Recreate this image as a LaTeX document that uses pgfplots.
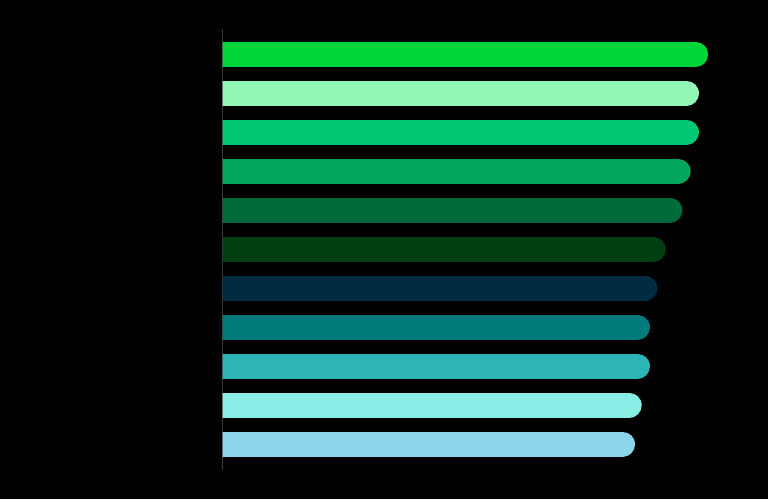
\documentclass[border=0pt]{standalone}
\usepackage{pgfplots}
\pgfplotsset{compat=1.18}
\definecolor{c1}{HTML}{00D639}
\definecolor{c2}{HTML}{90F7B6}
\definecolor{c3}{HTML}{00C875}
\definecolor{c4}{HTML}{00A65A}
\definecolor{c5}{HTML}{006B3A}
\definecolor{c6}{HTML}{003F10}
\definecolor{c7}{HTML}{002B40}
\definecolor{c8}{HTML}{007A7A}
\definecolor{c9}{HTML}{2DB5B5}
\definecolor{c10}{HTML}{88EDE5}
\definecolor{c11}{HTML}{8AD5EA}
\definecolor{axisgray}{HTML}{3A3A3A}
\begin{document}
\begin{tikzpicture}
\fill[black] (0,0) rectangle (768pt,499pt);
\begin{axis}[
  at={(222.5pt,29pt)}, anchor=south west,
  scale only axis, width=498pt, height=441pt,
  xmin=0, xmax=60,
  y dir=reverse, ymin=-0.646, ymax=10.667,
  axis x line=none, axis y line=left,
  axis line style={-, draw=axisgray, line width=0.8pt},
  xtick=\empty, ytick=\empty,
  every axis plot/.append style={line width=25pt, line cap=round, mark=none},
]
\addplot[c1]  coordinates {(0,0) (57,0)};
\addplot[c2]  coordinates {(0,1) (55.9,1)};
\addplot[c3]  coordinates {(0,2) (55.9,2)};
\addplot[c4]  coordinates {(0,3) (54.9,3)};
\addplot[c5]  coordinates {(0,4) (53.9,4)};
\addplot[c6]  coordinates {(0,5) (51.9,5)};
\addplot[c7]  coordinates {(0,6) (50.9,6)};
\addplot[c8]  coordinates {(0,7) (50,7)};
\addplot[c9]  coordinates {(0,8) (50,8)};
\addplot[c10] coordinates {(0,9) (49,9)};
\addplot[c11] coordinates {(0,10) (48.2,10)};
\end{axis}
\end{tikzpicture}
\end{document}
